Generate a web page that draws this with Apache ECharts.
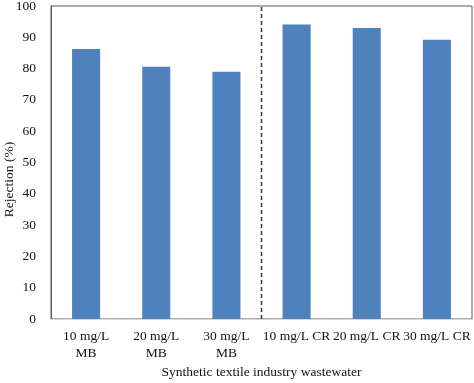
<!DOCTYPE html>
<html><head><meta charset="utf-8">
<script src="https://cdn.jsdelivr.net/npm/echarts@6/dist/echarts.min.js"></script>
<style>html,body{margin:0;padding:0;background:#fff}#c{width:474px;height:383px}</style>
</head><body><div id="c"></div>
<script>
const categories = ['10 mg/L\nMB', '20 mg/L\nMB', '30 mg/L\nMB', '10 mg/L CR', '20 mg/L CR', '30 mg/L CR'];
const rejection = [86.3, 80.6, 79.0, 94.1, 93.0, 89.2];
const yTicks = [0, 10, 20, 30, 40, 50, 60, 70, 80, 90, 100];
const dividerPos = [3, 3];
const dividerY = [0, 100];

const font = 'Liberation Serif';
const chart = echarts.init(document.getElementById('c'));
chart.setOption({
  animation: false,
  grid: { left: 51, right: 2, top: 6, bottom: 64, containLabel: false, outerBoundsMode: 'none',
          show: true, borderColor: '#595959', borderWidth: 1 },
  xAxis: [{
    type: 'category', data: categories,
    axisLine: { lineStyle: { color: '#d9d9d9' } },
    axisTick: { show: false },
    axisLabel: { interval: 0, fontFamily: font, fontSize: 13.5, color: '#111', margin: 9, lineHeight: 17, hideOverlap: false },
    name: 'Synthetic textile industry wastewater', nameLocation: 'middle', nameGap: 46, nameMoveOverlap: false,
    nameTextStyle: { fontFamily: font, fontSize: 13.5, color: '#111' }
  }, {
    type: 'value', min: 0, max: 6, show: false
  }],
  yAxis: {
    type: 'value', min: yTicks[0], max: yTicks[yTicks.length - 1], interval: 10,
    axisLine: { show: true, lineStyle: { color: '#595959' } },
    axisTick: { show: false },
    splitLine: { show: false },
    axisLabel: { fontFamily: font, fontSize: 13.5, color: '#111', margin: 15 },
    name: 'Rejection (%)', nameLocation: 'middle', nameGap: 35, nameMoveOverlap: false,
    nameTextStyle: { fontFamily: font, fontSize: 13.5, color: '#111', padding: [0, 34, 0, 0] }
  },
  series: [{
    type: 'bar', data: rejection, barWidth: '40%',
    itemStyle: { color: '#4f81bd' }
  }, {
    type: 'line', xAxisIndex: 1, symbol: 'none',
    data: dividerY.map((y, i) => [dividerPos[i], y]),
    lineStyle: { color: '#404040', width: 1.6, type: [4, 3] }
  }]
});
</script></body></html>
